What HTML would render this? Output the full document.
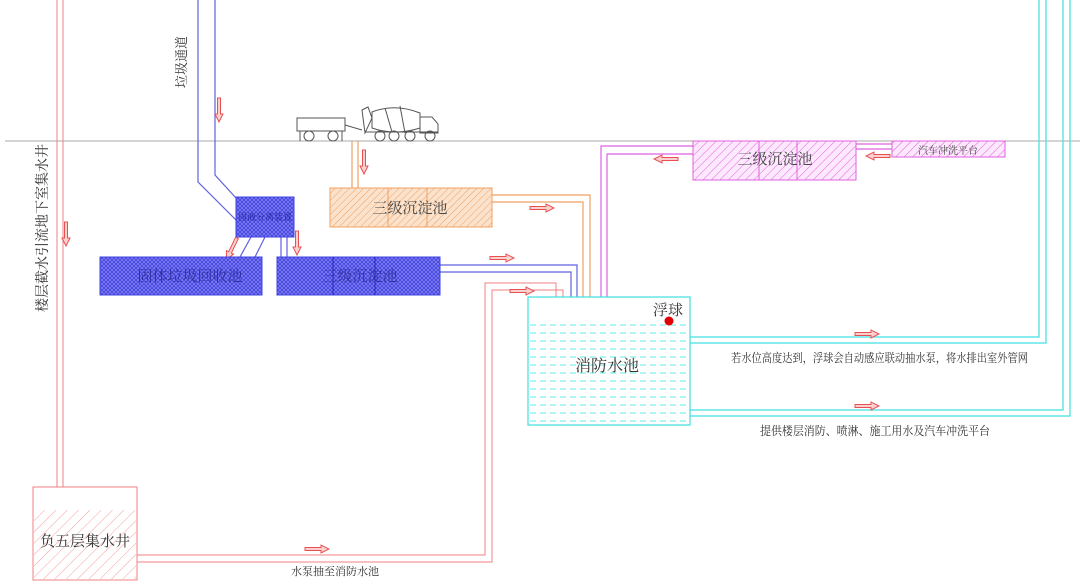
<!DOCTYPE html>
<html><head><meta charset="utf-8"><style>
html,body{margin:0;padding:0;background:#fff;}
svg{display:block;font-family:"Liberation Serif","Noto Serif CJK SC","Noto Sans CJK SC",serif;}
</style></head><body>
<svg width="1080" height="585" viewBox="0 0 1080 585" xmlns="http://www.w3.org/2000/svg">
<defs>
<pattern id="hb" width="4" height="4" patternUnits="userSpaceOnUse"><rect width="4" height="4" fill="#7c7cf0"/><path d="M0 4L4 0M0 0L4 4" stroke="#3c3cdc" stroke-width="0.7"/></pattern>
<pattern id="ho" width="5" height="5" patternUnits="userSpaceOnUse" patternTransform="rotate(45)"><rect width="5" height="5" fill="#fbe2cc"/><line x1="0" y1="0" x2="0" y2="5" stroke="#f0a060" stroke-width="1"/></pattern>
<pattern id="hm" width="6" height="6" patternUnits="userSpaceOnUse" patternTransform="rotate(45)"><rect width="6" height="6" fill="#fde8fd"/><line x1="0" y1="0" x2="0" y2="6" stroke="#e060e0" stroke-width="1"/></pattern>
<pattern id="hr" width="8" height="8" patternUnits="userSpaceOnUse" patternTransform="rotate(45)"><line x1="0" y1="0" x2="0" y2="8" stroke="#f4a0a0" stroke-width="1"/></pattern>
<g id="ar"><path d="M0 -1.5H16V-4L24 0L16 4V1.5H0Z" fill="#fbd0d0" stroke="#e85050" stroke-width="1"/></g>
</defs>
<line x1="5" y1="141" x2="1080" y2="141" stroke="#aaa" stroke-width="1"/>
<g stroke="#f08080" fill="none" stroke-width="1">
<polyline points="57,0 57,487"/><polyline points="63,0 63,487"/>
<rect x="33" y="487" width="104" height="93"/>
<polyline points="137,555 485,555 485,283 556,283 556,297"/>
<polyline points="137,562 492,562 492,290 563,290 563,297"/>
</g>
<rect x="34" y="510" width="102" height="69" fill="url(#hr)"/>
<text x="85" y="546" font-size="15" text-anchor="middle" fill="#333">负五层集水井</text>
<use href="#ar" x="305" y="549"/>
<text x="335" y="575" font-size="11" text-anchor="middle" fill="#333">水泵抽至消防水池</text>
<text transform="translate(47,228) rotate(-90)" font-size="14" text-anchor="middle" fill="#333">楼层截水引流地下室集水井</text>
<use href="#ar" transform="translate(66,222) rotate(90)"/>
<g stroke="#6060e0" fill="none" stroke-width="1.2">
<polyline points="198,0 198,182 236,220"/><polyline points="215,0 215,175 236,198"/>
<line x1="251" y1="237" x2="240" y2="257"/><line x1="265" y1="237" x2="255" y2="257"/>
<line x1="281" y1="237" x2="281" y2="257"/><line x1="287" y1="237" x2="287" y2="257"/>
<polyline points="440,265 577,265 577,297"/><polyline points="440,272 571,272 571,297"/>
</g>
<text transform="translate(186,62) rotate(-90)" font-size="13" text-anchor="middle" fill="#333">垃圾通道</text>
<use href="#ar" transform="translate(219,98) rotate(90)"/>
<rect x="236" y="197" width="58" height="40" fill="url(#hb)" stroke="#4040e0"/>
<text x="265" y="220" font-size="9" text-anchor="middle" fill="#2020a0">固液分离装置</text>
<use href="#ar" transform="translate(237,238) rotate(116)"/>
<use href="#ar" transform="translate(297,231) rotate(90)"/>
<rect x="100" y="257" width="162" height="38" fill="url(#hb)" stroke="#4040e0"/>
<text x="190" y="281" font-size="15" text-anchor="middle" fill="#3030a0">固体垃圾回收池</text>
<rect x="277" y="257" width="163" height="38" fill="url(#hb)" stroke="#4040e0"/>
<line x1="333" y1="257" x2="333" y2="295" stroke="#2020c0"/><line x1="375" y1="257" x2="375" y2="295" stroke="#2020c0"/>
<text x="360" y="281" font-size="15" text-anchor="middle" fill="#3030a0">三级沉淀池</text>
<use href="#ar" x="490" y="258"/>
<use href="#ar" x="510" y="291"/>
<g stroke="#555" fill="none" stroke-width="1">
<rect x="297" y="118" width="48" height="13"/>
<line x1="345" y1="125" x2="362" y2="130"/>
<line x1="300" y1="131" x2="300" y2="141"/><line x1="342" y1="131" x2="342" y2="141"/>
<circle cx="309" cy="136" r="5"/><circle cx="333" cy="136" r="5"/>
<path d="M362 110 L368 107 L372 118 L365 133 Z"/>
<path d="M372 112 Q395 103 420 113 L420 128 Q395 136 372 128 Z"/>
<line x1="385" y1="108" x2="392" y2="132"/><line x1="400" y1="106" x2="405" y2="133"/>
<path d="M420 117 H432 L438 124 V133 H420 Z"/>
<line x1="365" y1="132" x2="438" y2="132"/>
<circle cx="380" cy="136" r="5"/><circle cx="394" cy="136" r="5"/><circle cx="410" cy="136" r="5"/><circle cx="430" cy="136" r="5"/>
</g>
<g stroke="#f0a060" fill="none" stroke-width="1.2">
<line x1="352" y1="141" x2="352" y2="188"/><line x1="358" y1="141" x2="358" y2="188"/>
<polyline points="492,195 590,195 590,297"/><polyline points="492,202 583,202 583,297"/>
</g>
<use href="#ar" transform="translate(364,150) rotate(90)"/>
<rect x="330" y="188" width="162" height="39" fill="url(#ho)" stroke="#f0a060"/>
<line x1="388" y1="188" x2="388" y2="227" stroke="#f0a060"/><line x1="427" y1="188" x2="427" y2="227" stroke="#f0a060"/>
<text x="410" y="213" font-size="15" text-anchor="middle" fill="#444">三级沉淀池</text>
<use href="#ar" x="530" y="208"/>
<g stroke="#e060e0" fill="none" stroke-width="1.2">
<polyline points="693,146 601,146 601,297"/><polyline points="693,154 607,154 607,297"/>
<line x1="856" y1="144" x2="892" y2="144"/><line x1="856" y1="149" x2="892" y2="149"/>
</g>
<rect x="693" y="141" width="163" height="39" fill="url(#hm)" stroke="#e060e0"/>
<line x1="759" y1="141" x2="759" y2="180" stroke="#e060e0"/><line x1="797" y1="141" x2="797" y2="180" stroke="#e060e0"/>
<text x="775" y="164" font-size="15" text-anchor="middle" fill="#444">三级沉淀池</text>
<rect x="892" y="141" width="113" height="16" fill="url(#hm)" stroke="#e060e0"/>
<text x="948" y="154" font-size="10" text-anchor="middle" fill="#444">汽车冲洗平台</text>
<use href="#ar" transform="translate(678,159) rotate(180)"/>
<use href="#ar" transform="translate(890,156) rotate(180)"/>
<g stroke="#40e0e0" fill="none" stroke-width="1.2">
<polyline points="690,337 1039,337 1039,0"/><polyline points="690,343 1046,343 1046,0"/>
<polyline points="690,410 1063,410 1063,0"/><polyline points="690,416 1070,416 1070,0"/>
<rect x="528" y="297" width="162" height="128"/>
</g>
<g stroke="#60e8e8" stroke-width="1" stroke-dasharray="6,4">
<line x1="530" y1="325" x2="688" y2="325"/><line x1="530" y1="333" x2="688" y2="333"/>
<line x1="530" y1="341" x2="688" y2="341"/><line x1="530" y1="349" x2="688" y2="349"/>
<line x1="530" y1="357" x2="688" y2="357"/><line x1="530" y1="365" x2="688" y2="365"/>
<line x1="530" y1="373" x2="688" y2="373"/><line x1="530" y1="381" x2="688" y2="381"/>
<line x1="530" y1="389" x2="688" y2="389"/><line x1="530" y1="397" x2="688" y2="397"/>
<line x1="530" y1="405" x2="688" y2="405"/><line x1="530" y1="413" x2="688" y2="413"/>
<line x1="530" y1="421" x2="688" y2="421"/>
</g>
<text x="607" y="371" font-size="16" text-anchor="middle" fill="#333">消防水池</text>
<text x="668" y="315" font-size="15" text-anchor="middle" fill="#333">浮球</text>
<circle cx="669" cy="321" r="4.5" fill="#e00000"/>
<use href="#ar" x="855" y="334"/>
<use href="#ar" x="855" y="406"/>
<text x="731" y="362" font-size="12" textLength="297" lengthAdjust="spacingAndGlyphs" fill="#333">若水位高度达到，浮球会自动感应联动抽水泵，将水排出室外管网</text>
<text x="760" y="435" font-size="12" textLength="230" lengthAdjust="spacingAndGlyphs" fill="#333">提供楼层消防、喷淋、施工用水及汽车冲洗平台</text>
</svg>
</body></html>
